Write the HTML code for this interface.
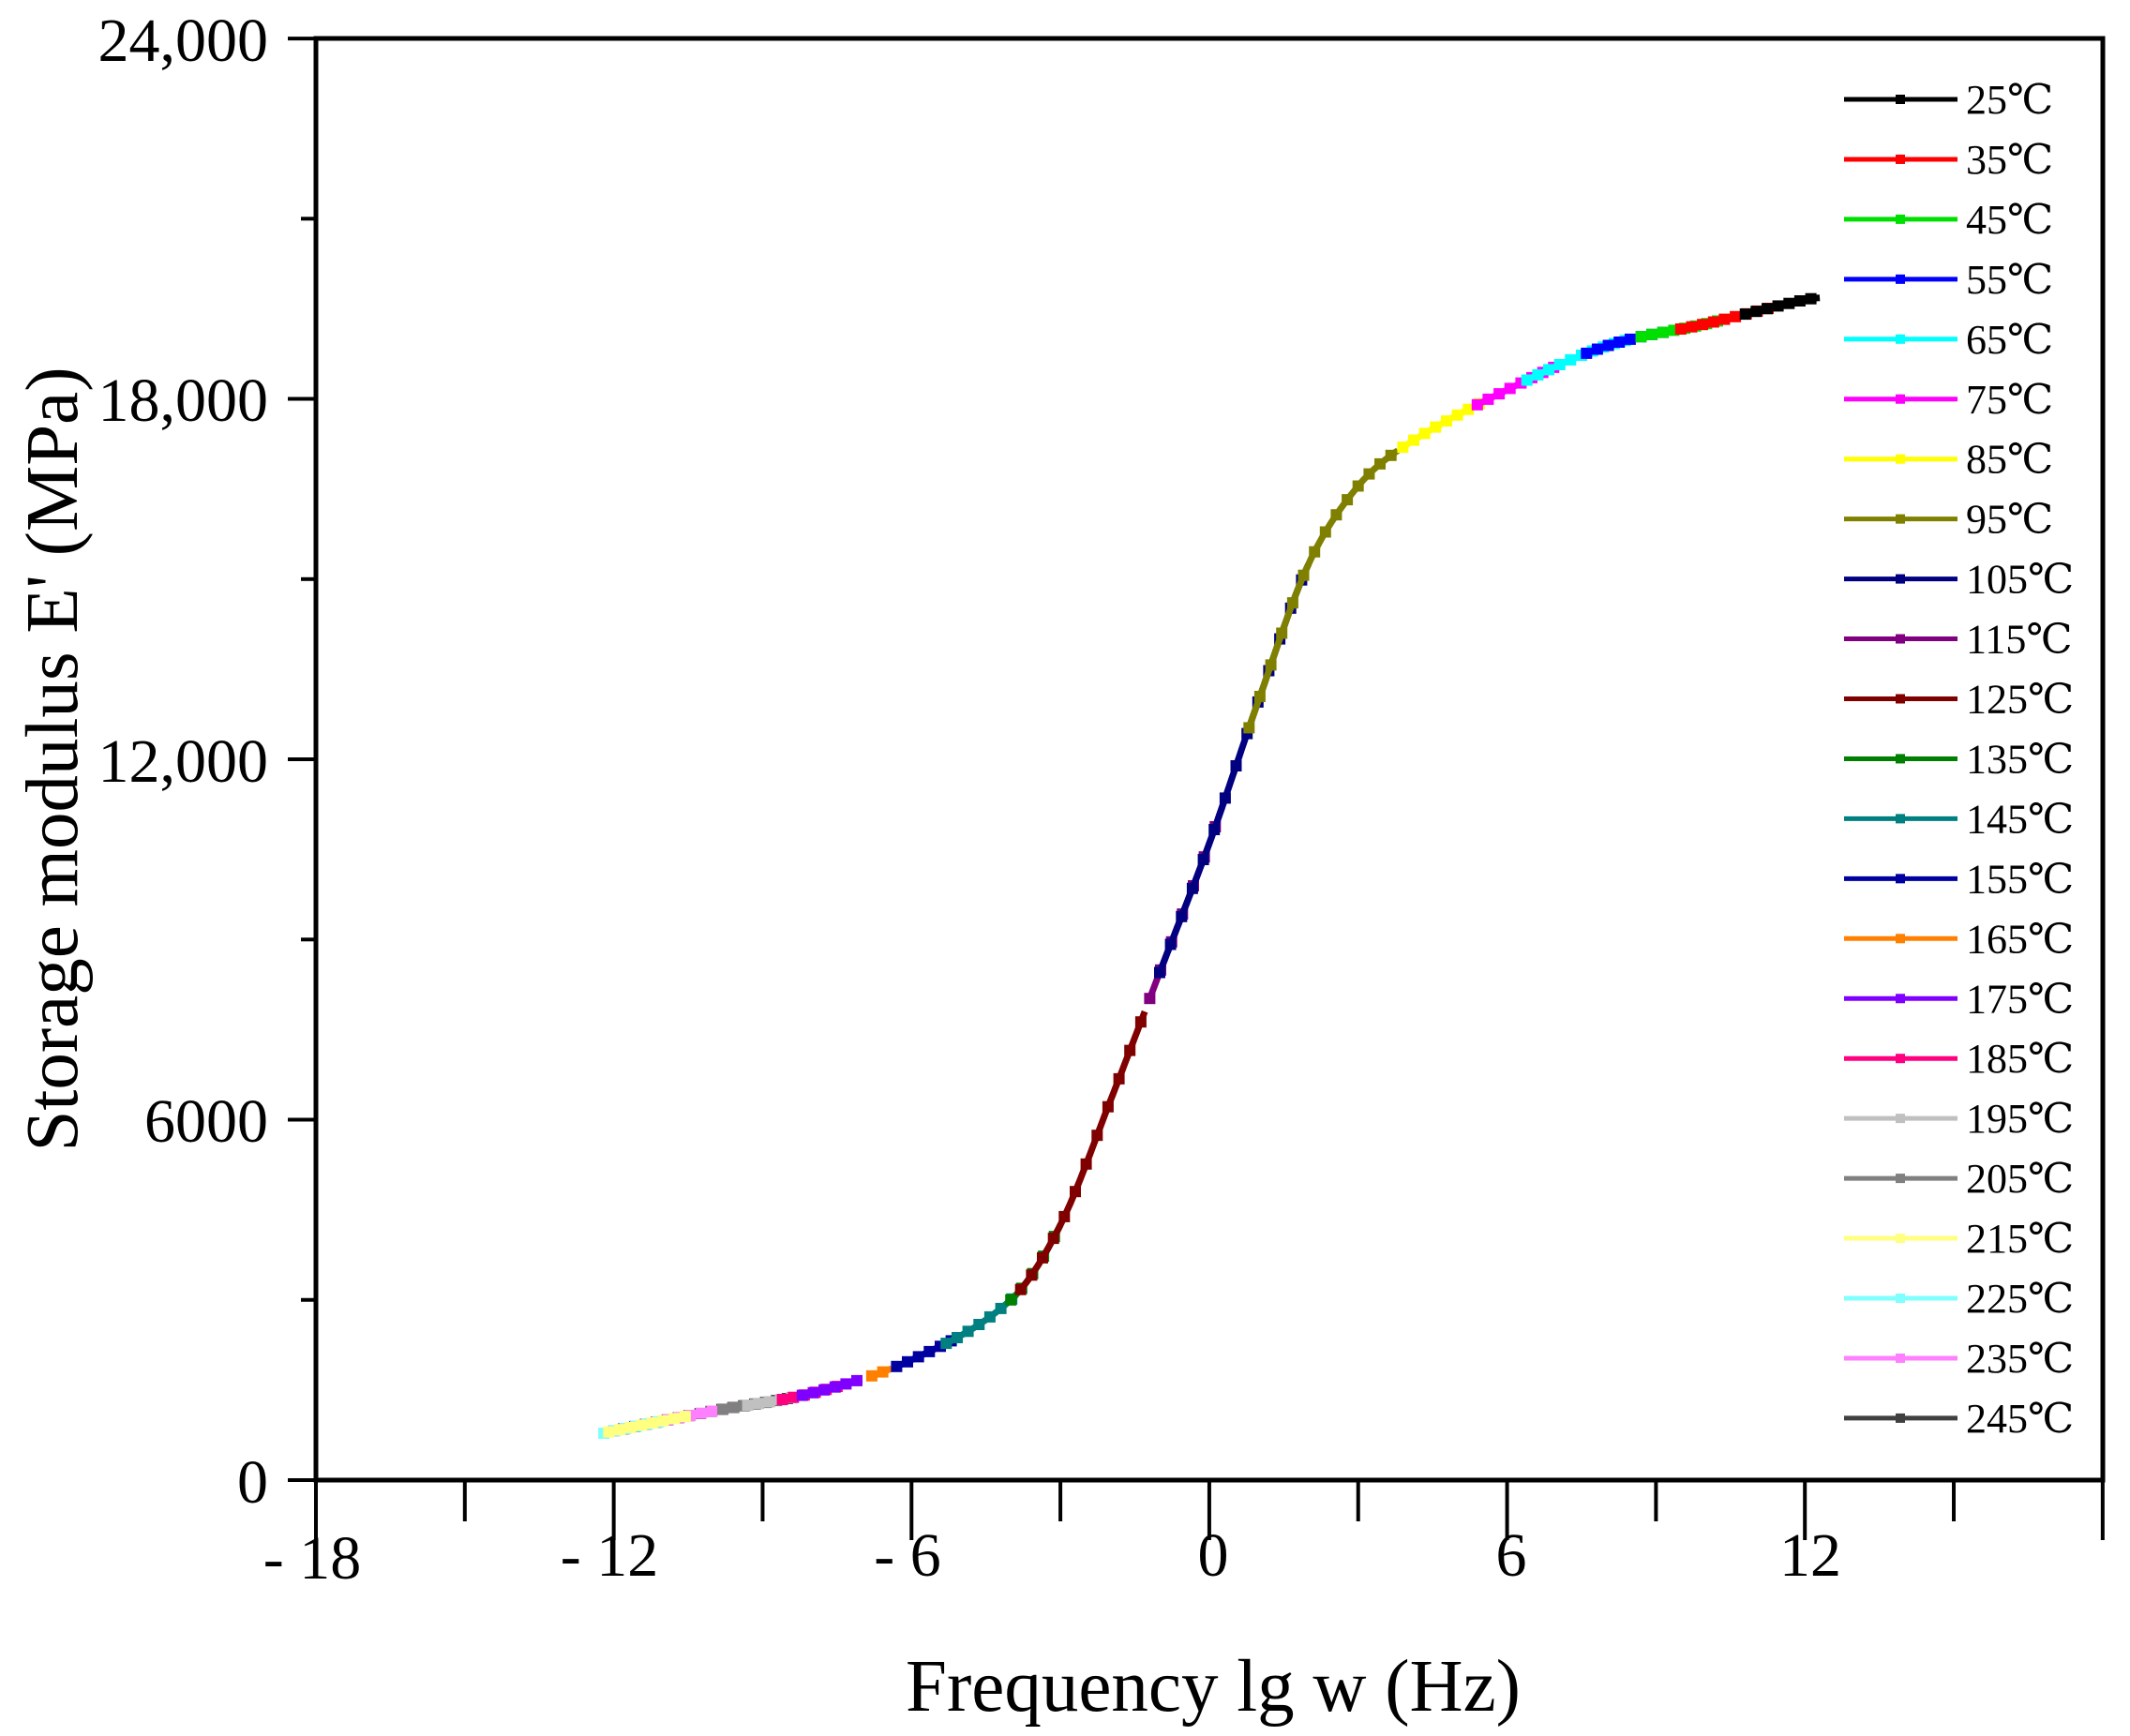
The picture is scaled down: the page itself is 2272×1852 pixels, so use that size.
<!DOCTYPE html>
<html><head><meta charset="utf-8"><style>
html,body{margin:0;padding:0;background:#fff;}
svg{display:block;}
text{font-family:"Liberation Serif","DejaVu Serif",serif;fill:#000;}
</style></head><body>
<svg id="s" width="2272" height="1852" viewBox="0 0 2272 1852" xmlns="http://www.w3.org/2000/svg">
<g id="curves"></g>
<g stroke="#000" fill="none">
<rect x="337" y="41" width="1906" height="1538" stroke-width="5"/>
</g>
<g id="ticks" stroke="#000" stroke-width="4"></g>
<g font-size="66" text-anchor="end">
<text x="286" y="1603">0</text>
<text x="286" y="1218">6000</text>
<text x="286" y="834">12,000</text>
<text x="286" y="449">18,000</text>
<text x="286" y="65">24,000</text>
</g>
<g font-size="66" text-anchor="middle">
<text x="333" y="1684">- 18</text>
<text x="650" y="1681">- 12</text>
<text x="968" y="1681">- 6</text>
<text x="1294" y="1681">0</text>
<text x="1612" y="1681">6</text>
<text x="1931" y="1681">12</text>
</g>
<text x="1294" y="1825" font-size="79" text-anchor="middle">Frequency lg w (Hz)</text>
<text transform="translate(82,810) rotate(-90)" font-size="79" text-anchor="middle">Storage modulus E' (MPa)</text>
<g id="legend"></g>
</svg>
<script>
var X=function(v){return 337+(v+18)*52.94;};
var Y=function(e){return 1579-e*0.06408;};
var P=[[-12.3,760],[-12,820],[-10,1150],[-8,1450],[-6,2000],[-4,3000],[-3,4250],[-2,6300],[-1,8450],[0,10600],[1,13000],[2,15250],[3,16550],[4,17250],[6,18150],[8,18880],[10,19250],[12,19650],[12.5,19700]];
function f(x){for(var i=0;i<P.length-1;i++){if(x<=P[i+1][0]){var a=P[Math.max(i-1,0)],b=P[i],c=P[i+1],d=P[Math.min(i+2,P.length-1)];var t=(x-b[0])/(c[0]-b[0]);
var m1=(c[1]-a[1])/(c[0]-a[0]),m2=(d[1]-b[1])/(d[0]-b[0]);var h=c[0]-b[0];var t2=t*t,t3=t2*t;
return (2*t3-3*t2+1)*b[1]+(t3-2*t2+t)*h*m1+(-2*t3+3*t2)*c[1]+(t3-t2)*h*m2;}}return P[P.length-1][1];}
var S=[["25","#000000",10.8,12.3],["35","#ff0000",9.5,11.4],["45","#00e000",8.7,10.4],["55","#0000ff",7.6,9.2],["65","#00ffff",6.4,8.5],["75","#ff00ff",5.4,7.0],["85","#ffff00",3.9,5.5],["95","#808000",0.8,3.8],["105","#000080",-1.0,2.0],["115","#800080",-1.2,0.3],["125","#800000",-3.8,-1.3],["135","#008000",-4.0,-3.0],["145","#008080",-5.3,-3.9],["155","#0000a0",-6.3,-5.0],["165","#ff8000",-6.8,-6.4],["175","#8000ff",-8.2,-7.0],["185","#ff0080",-8.6,-7.5],["195","#c0c0c0",-9.3,-8.3],["205","#808080",-9.8,-8.8],["215","#ffff80",-12.1,-10.5],["225","#80ffff",-12.2,-11.0],["235","#ff80ff",-12.0,-9.5],["245","#404040",-11.8,-8.5]];
var g=document.getElementById("curves"),h="";
for(var k=S.length-1;k>=0;k--){var s=S[k],pts=[],mk="";
for(var x=s[2];x<=s[3]+1e-6;x+=0.05){pts.push(X(x).toFixed(1)+","+Y(f(x)).toFixed(1));}
for(var x=s[2];x<=s[3]+1e-6;x+=0.22){mk+='<rect x="'+(X(x)-6).toFixed(1)+'" y="'+(Y(f(x))-6).toFixed(1)+'" width="12" height="12" fill="'+s[1]+'"/>';}
h+='<polyline points="'+pts.join(" ")+'" fill="none" stroke="'+s[1]+'" stroke-width="7"/>'+mk;}
g.innerHTML=h;
var t="";
for(var v=-18;v<=18;v+=3){var L=(v%6==0)?64:44;t+='<line x1="'+X(v)+'" y1="1579" x2="'+X(v)+'" y2="'+(1579+L)+'"/>';}
for(var e=0;e<=24000;e+=3000){var L=(e%6000==0)?30:16;t+='<line x1="'+(337-L)+'" y1="'+Y(e)+'" x2="337" y2="'+Y(e)+'"/>';}
document.getElementById("ticks").innerHTML=t;
var l="";
for(var i=0;i<S.length;i++){var y=106+i*63.95;
l+='<line x1="1967" y1="'+y+'" x2="2088" y2="'+y+'" stroke="'+S[i][1]+'" stroke-width="5"/><rect x="2022" y="'+(y-5)+'" width="10" height="10" fill="'+S[i][1]+'"/><text x="2097" y="'+(y+15)+'" font-size="44">'+S[i][0]+'℃</text>';}
document.getElementById("legend").innerHTML=l;
</script>
</body></html>
